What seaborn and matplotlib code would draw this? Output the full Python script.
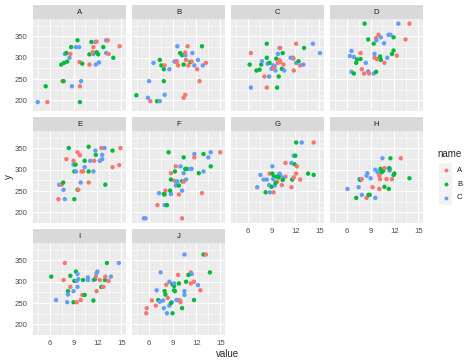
import matplotlib
matplotlib.use("Agg")
import matplotlib.pyplot as plt
from matplotlib.patches import Rectangle
from matplotlib.lines import Line2D
from matplotlib.ticker import MultipleLocator
import seaborn as sns
import pandas as pd

# points: (value, y, name)
facet_A = [(4.5, 196, "C"), (5.7, 196, "A"), (5.5, 233, "B"), (7.6, 245, "A"), (7.75, 245, "B"),
           (8.8, 233, "C"), (9.8, 233, "A"), (9.95, 245, "C"), (9.8, 196, "B"), (7.45, 284, "B"),
           (7.8, 288, "B"), (8.2, 291, "B"), (7.9, 309, "C"), (8.1, 311, "B"), (8.5, 300, "C"),
           (8.6, 309, "A"), (8.7, 325, "B"), (9.3, 325, "C"), (9.7, 325, "C"), (9.5, 341, "B"),
           (9.75, 290, "A"), (10.1, 286, "B"), (11.0, 284, "A"), (11.0, 308, "B"), (11.5, 309, "C"),
           (11.4, 313, "A"), (11.25, 337, "B"), (11.75, 337, "C"), (11.9, 338, "A"), (11.5, 325, "A"),
           (11.9, 313, "B"), (12.1, 308, "B"), (11.8, 284, "C"), (12.2, 289, "C"), (12.75, 325, "B"),
           (13.1, 341, "C"), (13.3, 341, "A"), (13.1, 311, "C"), (13.4, 309, "A"), (14.0, 300, "B"),
           (14.8, 327, "A")]
facet_B = [(4.45, 212, "B"), (5.9, 206, "C"), (6.2, 198, "A"), (6.05, 245, "C"), (7.05, 198, "B"),
           (7.4, 198, "C"), (8.0, 213, "C"), (7.9, 245, "B"), (10.4, 206, "A"), (10.6, 213, "A"),
           (12.4, 245, "A"), (6.6, 288, "C"), (7.4, 295, "B"), (7.6, 282, "B"), (8.0, 282, "A"),
           (7.9, 273, "B"), (8.6, 273, "C"), (9.25, 291, "C"), (9.5, 292, "C"), (9.7, 282, "A"),
           (9.5, 290, "A"), (9.6, 327, "C"), (9.95, 311, "B"), (10.2, 306, "B"), (10.4, 307, "B"),
           (10.6, 306, "C"), (10.6, 312, "A"), (10.9, 327, "A"), (10.7, 295, "A"), (10.4, 284, "B"),
           (11.0, 282, "A"), (11.25, 290, "B"), (11.4, 291, "A"), (11.5, 311, "C"), (11.75, 282, "C"),
           (12.1, 273, "A"), (12.2, 295, "C"), (12.7, 327, "B"), (12.8, 282, "C"), (13.2, 288, "A")]
facet_C = [(6.4, 230, "C"), (8.4, 230, "A"), (9.7, 230, "B"), (8.1, 256, "A"), (8.7, 256, "C"),
           (9.9, 256, "B"), (6.4, 311, "A"), (6.25, 284, "B"), (8.4, 333, "B"), (7.1, 270, "B"),
           (7.5, 272, "B"), (7.7, 284, "B"), (7.8, 292, "C"), (8.4, 300, "B"), (8.5, 286, "C"),
           (8.75, 288, "B"), (9.2, 282, "C"), (9.0, 274, "C"), (9.5, 270, "C"), (9.4, 280, "C"),
           (9.3, 276, "A"), (9.6, 298, "B"), (9.8, 288, "A"), (10.0, 294, "A"), (10.1, 290, "A"),
           (9.8, 309, "C"), (10.4, 311, "B"), (10.0, 323, "C"), (10.1, 323, "A"), (10.5, 284, "A"),
           (10.3, 274, "B"), (10.6, 270, "C"), (11.4, 300, "C"), (11.7, 300, "C"), (11.75, 298, "A"),
           (11.8, 270, "A"), (12.1, 288, "C"), (12.4, 292, "B"), (12.6, 282, "A"), (13.0, 284, "C"),
           (12.1, 333, "A"), (13.1, 323, "B"), (14.2, 333, "C"), (15.1, 311, "C")]
facet_D = [(8.25, 380, "B"), (12.5, 380, "C"), (13.9, 380, "A"), (8.7, 343, "B"), (9.7, 346, "A"),
           (10.0, 354, "A"), (10.3, 348, "C"), (9.75, 341, "C"), (9.4, 333, "B"), (10.7, 334, "C"),
           (11.25, 354, "C"), (11.5, 354, "C"), (11.9, 348, "B"), (13.4, 343, "A"), (6.6, 316, "C"),
           (6.4, 304, "C"), (7.75, 311, "A"), (6.9, 302, "C"), (7.3, 296, "B"), (7.75, 297, "B"),
           (7.2, 288, "B"), (8.4, 288, "C"), (9.5, 309, "C"), (9.5, 300, "A"), (9.8, 297, "A"),
           (10.2, 303, "B"), (10.3, 295, "B"), (10.75, 288, "A"), (11.1, 300, "C"), (11.7, 309, "B"),
           (11.9, 317, "B"), (12.3, 305, "A"), (7.9, 273, "A"), (8.7, 268, "C"), (8.2, 263, "A"),
           (8.8, 263, "A"), (9.4, 263, "C"), (9.7, 267, "B"), (6.6, 267, "C"), (6.9, 263, "B")]
facet_E = [(7.1, 231, "A"), (7.9, 231, "C"), (9.1, 231, "B"), (9.5, 253, "B"), (9.6, 253, "A"),
           (7.2, 265, "C"), (7.5, 265, "A"), (7.7, 270, "B"), (7.75, 253, "C"), (9.9, 270, "C"),
           (10.9, 270, "A"), (13.0, 265, "B"), (8.1, 325, "A"), (8.4, 351, "B"), (9.0, 321, "A"),
           (9.0, 312, "C"), (9.25, 312, "B"), (9.1, 296, "B"), (9.3, 296, "C"), (9.5, 341, "A"),
           (9.8, 334, "A"), (10.4, 321, "B"), (10.4, 306, "C"), (10.2, 296, "A"), (10.0, 296, "A"),
           (10.9, 296, "B"), (11.5, 296, "C"), (11.1, 321, "C"), (11.6, 321, "A"), (11.75, 345, "C"),
           (11.8, 335, "B"), (12.3, 321, "C"), (12.6, 325, "C"), (12.6, 335, "C"), (12.5, 351, "A"),
           (12.9, 351, "C"), (10.9, 354, "B"), (13.9, 345, "B"), (14.9, 351, "A"), (13.9, 306, "A"),
           (14.75, 311, "A")]
facet_F = [(5.4, 186, "C"), (5.6, 186, "C"), (10.2, 186, "A"), (7.1, 217, "A"), (8.0, 217, "C"),
           (8.2, 217, "C"), (8.3, 217, "B"), (7.3, 245, "C"), (8.1, 251, "A"), (7.9, 243, "B"),
           (8.0, 242, "B"), (8.8, 243, "C"), (8.7, 251, "B"), (9.8, 242, "A"), (10.2, 251, "C"),
           (12.7, 245, "A"), (9.4, 263, "C"), (9.5, 265, "C"), (9.8, 263, "B"), (9.25, 274, "A"),
           (9.6, 273, "C"), (8.8, 277, "B"), (10.2, 273, "B"), (10.7, 277, "C"), (10.4, 272, "A"),
           (8.8, 292, "A"), (9.3, 296, "B"), (9.4, 308, "A"), (10.0, 308, "C"), (10.4, 292, "C"),
           (10.6, 302, "B"), (10.8, 302, "B"), (11.25, 302, "C"), (11.4, 302, "C"), (8.5, 341, "B"),
           (10.4, 329, "B"), (11.75, 337, "C"), (11.75, 329, "A"), (12.3, 292, "B"), (12.9, 296, "C"),
           (12.9, 337, "B"), (13.5, 329, "C"), (13.8, 341, "C"), (13.8, 308, "B"), (15.0, 341, "A")]
facet_G = [(12.1, 364, "B"), (12.8, 364, "C"), (14.3, 364, "A"), (11.8, 333, "C"), (12.0, 333, "B"),
           (10.75, 316, "A"), (11.5, 316, "C"), (11.9, 313, "B"), (12.2, 308, "A"), (9.1, 308, "C"),
           (7.6, 288, "C"), (8.75, 291, "A"), (9.1, 291, "B"), (10.0, 291, "C"), (10.1, 288, "C"),
           (9.3, 284, "B"), (9.7, 284, "B"), (9.9, 282, "B"), (10.75, 284, "A"), (10.5, 281, "C"),
           (8.0, 277, "C"), (8.4, 277, "C"), (9.2, 278, "C"), (9.7, 272, "A"), (10.4, 276, "B"),
           (10.3, 264, "A"), (8.7, 264, "C"), (9.0, 260, "B"), (9.4, 263, "C"), (9.5, 269, "B"),
           (7.2, 259, "C"), (11.5, 259, "A"), (11.6, 277, "B"), (12.1, 291, "A"), (11.8, 282, "A"),
           (12.6, 277, "A"), (8.25, 247, "B"), (8.8, 247, "C"), (9.25, 247, "A"), (13.6, 291, "B"),
           (14.3, 288, "B")]
facet_H = [(10.5, 327, "C"), (11.5, 327, "B"), (12.8, 327, "A"), (6.1, 255, "C"), (7.5, 259, "C"),
           (7.2, 234, "B"), (8.5, 234, "A"), (8.75, 241, "B"), (8.9, 241, "B"), (9.6, 234, "C"),
           (7.9, 241, "C"), (9.25, 259, "A"), (10.1, 255, "A"), (10.75, 260, "B"), (11.3, 255, "B"),
           (7.6, 278, "C"), (7.7, 276, "B"), (7.9, 278, "A"), (8.6, 292, "C"), (8.5, 286, "C"),
           (9.0, 280, "C"), (9.6, 300, "C"), (9.9, 294, "C"), (10.25, 302, "B"), (10.4, 294, "B"),
           (10.1, 286, "A"), (10.2, 278, "A"), (10.6, 298, "B"), (10.75, 304, "A"), (11.3, 304, "C"),
           (11.4, 298, "C"), (11.4, 303, "B"), (11.0, 278, "A"), (11.7, 278, "A"), (11.9, 288, "B"),
           (12.0, 291, "B"), (13.9, 280, "B")]
facet_I = [(7.9, 344, "A"), (6.2, 312, "B"), (7.75, 304, "A"), (6.8, 257, "C"), (8.2, 252, "C"),
           (9.0, 252, "B"), (9.4, 252, "A"), (8.3, 278, "B"), (8.3, 270, "C"), (8.6, 288, "A"),
           (8.6, 314, "B"), (9.3, 324, "B"), (9.5, 318, "C"), (9.1, 302, "B"), (9.4, 302, "C"),
           (9.6, 306, "C"), (9.5, 288, "C"), (9.0, 278, "C"), (9.9, 257, "A"), (10.1, 269, "A"),
           (10.4, 269, "B"), (10.2, 304, "B"), (10.8, 310, "C"), (10.8, 304, "C"), (11.5, 256, "B"),
           (11.9, 278, "A"), (11.5, 304, "C"), (11.7, 306, "B"), (11.8, 312, "A"), (11.9, 320, "C"),
           (12.0, 324, "C"), (12.3, 304, "A"), (12.5, 288, "B"), (12.75, 288, "A"), (12.95, 304, "B"),
           (13.0, 312, "A"), (13.2, 344, "B"), (13.4, 302, "A"), (13.7, 312, "C"), (14.7, 344, "C")]
facet_J = [(10.5, 364, "C"), (12.9, 364, "B"), (13.2, 364, "A"), (7.5, 322, "C"), (9.7, 316, "A"),
           (11.3, 322, "A"), (11.4, 318, "C"), (11.0, 316, "B"), (13.7, 322, "B"), (8.6, 300, "C"),
           (8.2, 293, "A"), (9.0, 294, "B"), (9.2, 290, "B"), (9.2, 296, "C"), (9.8, 296, "B"),
           (10.7, 300, "B"), (11.3, 296, "A"), (11.7, 300, "A"), (12.2, 292, "C"), (12.5, 280, "A"),
           (7.0, 280, "C"), (8.0, 278, "B"), (8.1, 270, "B"), (9.2, 280, "B"), (9.3, 278, "B"),
           (10.5, 278, "C"), (10.5, 269, "C"), (6.4, 256, "A"), (7.2, 257, "B"), (7.4, 253, "C"),
           (7.8, 256, "C"), (6.9, 244, "A"), (8.6, 244, "C"), (8.4, 262, "A"), (8.9, 252, "C"),
           (8.8, 250, "B"), (9.5, 257, "C"), (9.75, 257, "C"), (9.95, 256, "A"), (10.0, 252, "A"),
           (7.9, 238, "C"), (8.3, 226, "C"), (9.0, 226, "B"), (10.2, 238, "B"), (5.75, 238, "A"),
           (5.7, 226, "A"), (11.7, 257, "B")]

facet_names = ["A", "B", "C", "D", "E", "F", "G", "H", "I", "J"]
facet_points = [facet_A, facet_B, facet_C, facet_D, facet_E,
                facet_F, facet_G, facet_H, facet_I, facet_J]
groups = ["A", "B", "C"]
colors = ["#F8766D", "#00BA38", "#619CFF"]

rows = []
for facet, pts in zip(facet_names, facet_points):
    for x, y, n in pts:
        rows.append({"facet": facet, "value": x, "y": y, "name": n})
df = pd.DataFrame(rows)

sns.set_theme(style="darkgrid", rc={"axes.facecolor": "#EBEBEB", "grid.color": "white"})
plt.rcParams["font.family"] = ["Liberation Sans", "DejaVu Sans"]

W, H = 474, 364
g = sns.relplot(data=df, x="value", y="y", hue="name", col="facet", col_wrap=4,
                hue_order=groups, palette=dict(zip(groups, colors)),
                s=10, linewidth=0, legend=False, height=1.2, aspect=1)
fig = g.figure
fig.set_size_inches(W / 100, H / 100)
# panel heights ~92px, strips 14px, gaps 6px
fig.subplots_adjust(left=33 / W, right=423 / W, top=1 - 19 / H, bottom=1 - 335 / H,
                    wspace=6 / 93, hspace=20 / 92)
g.set(xlim=(3.9, 15.6), ylim=(175, 391))
g.set_titles("")
g.set_axis_labels("", "")

for i, ax in enumerate(g.axes.flat):
    ax.xaxis.set_major_locator(MultipleLocator(3))
    ax.xaxis.set_minor_locator(MultipleLocator(1.5))
    ax.yaxis.set_major_locator(MultipleLocator(50))
    ax.yaxis.set_minor_locator(MultipleLocator(25))
    ax.grid(which="major", color="white", linewidth=0.8)
    ax.grid(which="minor", color="white", linewidth=0.4)
    ax.set_axisbelow(True)
    for sp in ax.spines.values():
        sp.set_visible(False)
    bottom = i >= 6
    left = i % 4 == 0
    ax.tick_params(which="minor", length=0)
    ax.tick_params(axis="x", which="major", labelsize=5.6, labelcolor="#4D4D4D", pad=1.2,
                   length=2.2 if bottom else 0, width=0.5, color="#333333", labelbottom=bottom)
    ax.tick_params(axis="y", which="major", labelsize=5.6, labelcolor="#4D4D4D", pad=1.5,
                   length=2.2 if left else 0, width=0.5, color="#333333", labelleft=left)
    # strip on top of each panel
    ax.add_patch(Rectangle((0, 1), 1, 14 / 92, transform=ax.transAxes, clip_on=False,
                           facecolor="#D9D9D9", edgecolor="none"))
    ax.text(0.5, 1 + 7 / 92, facet_names[i], transform=ax.transAxes, ha="center", va="center",
            fontsize=5.6, color="#1A1A1A")

fig.text(228 / W, 1 - 354 / H, "value", ha="center", va="center", fontsize=7)
fig.text(9 / W, 1 - 177 / H, "y", ha="center", va="center", fontsize=7, rotation=90)

# legend drawn like ggplot's guide
fig.text(437 / W, 1 - 154 / H, "name", ha="left", va="center", fontsize=7)
fig.patches.append(Rectangle((439 / W, 1 - 205 / H), 13 / W, 42 / H, transform=fig.transFigure,
                             facecolor="#F2F2F2", edgecolor="none"))
for k, (lab, col) in enumerate(zip(groups, colors)):
    yk = 1 - (170 + 14 * k) / H
    fig.lines.append(Line2D([445.5 / W], [yk], transform=fig.transFigure, marker="o",
                            markersize=2.8, color=col, markeredgewidth=0, linestyle="none"))
    fig.text(457 / W, yk, lab, ha="left", va="center", fontsize=5.6, color="#1A1A1A")

fig.savefig("out.png", dpi=100)
